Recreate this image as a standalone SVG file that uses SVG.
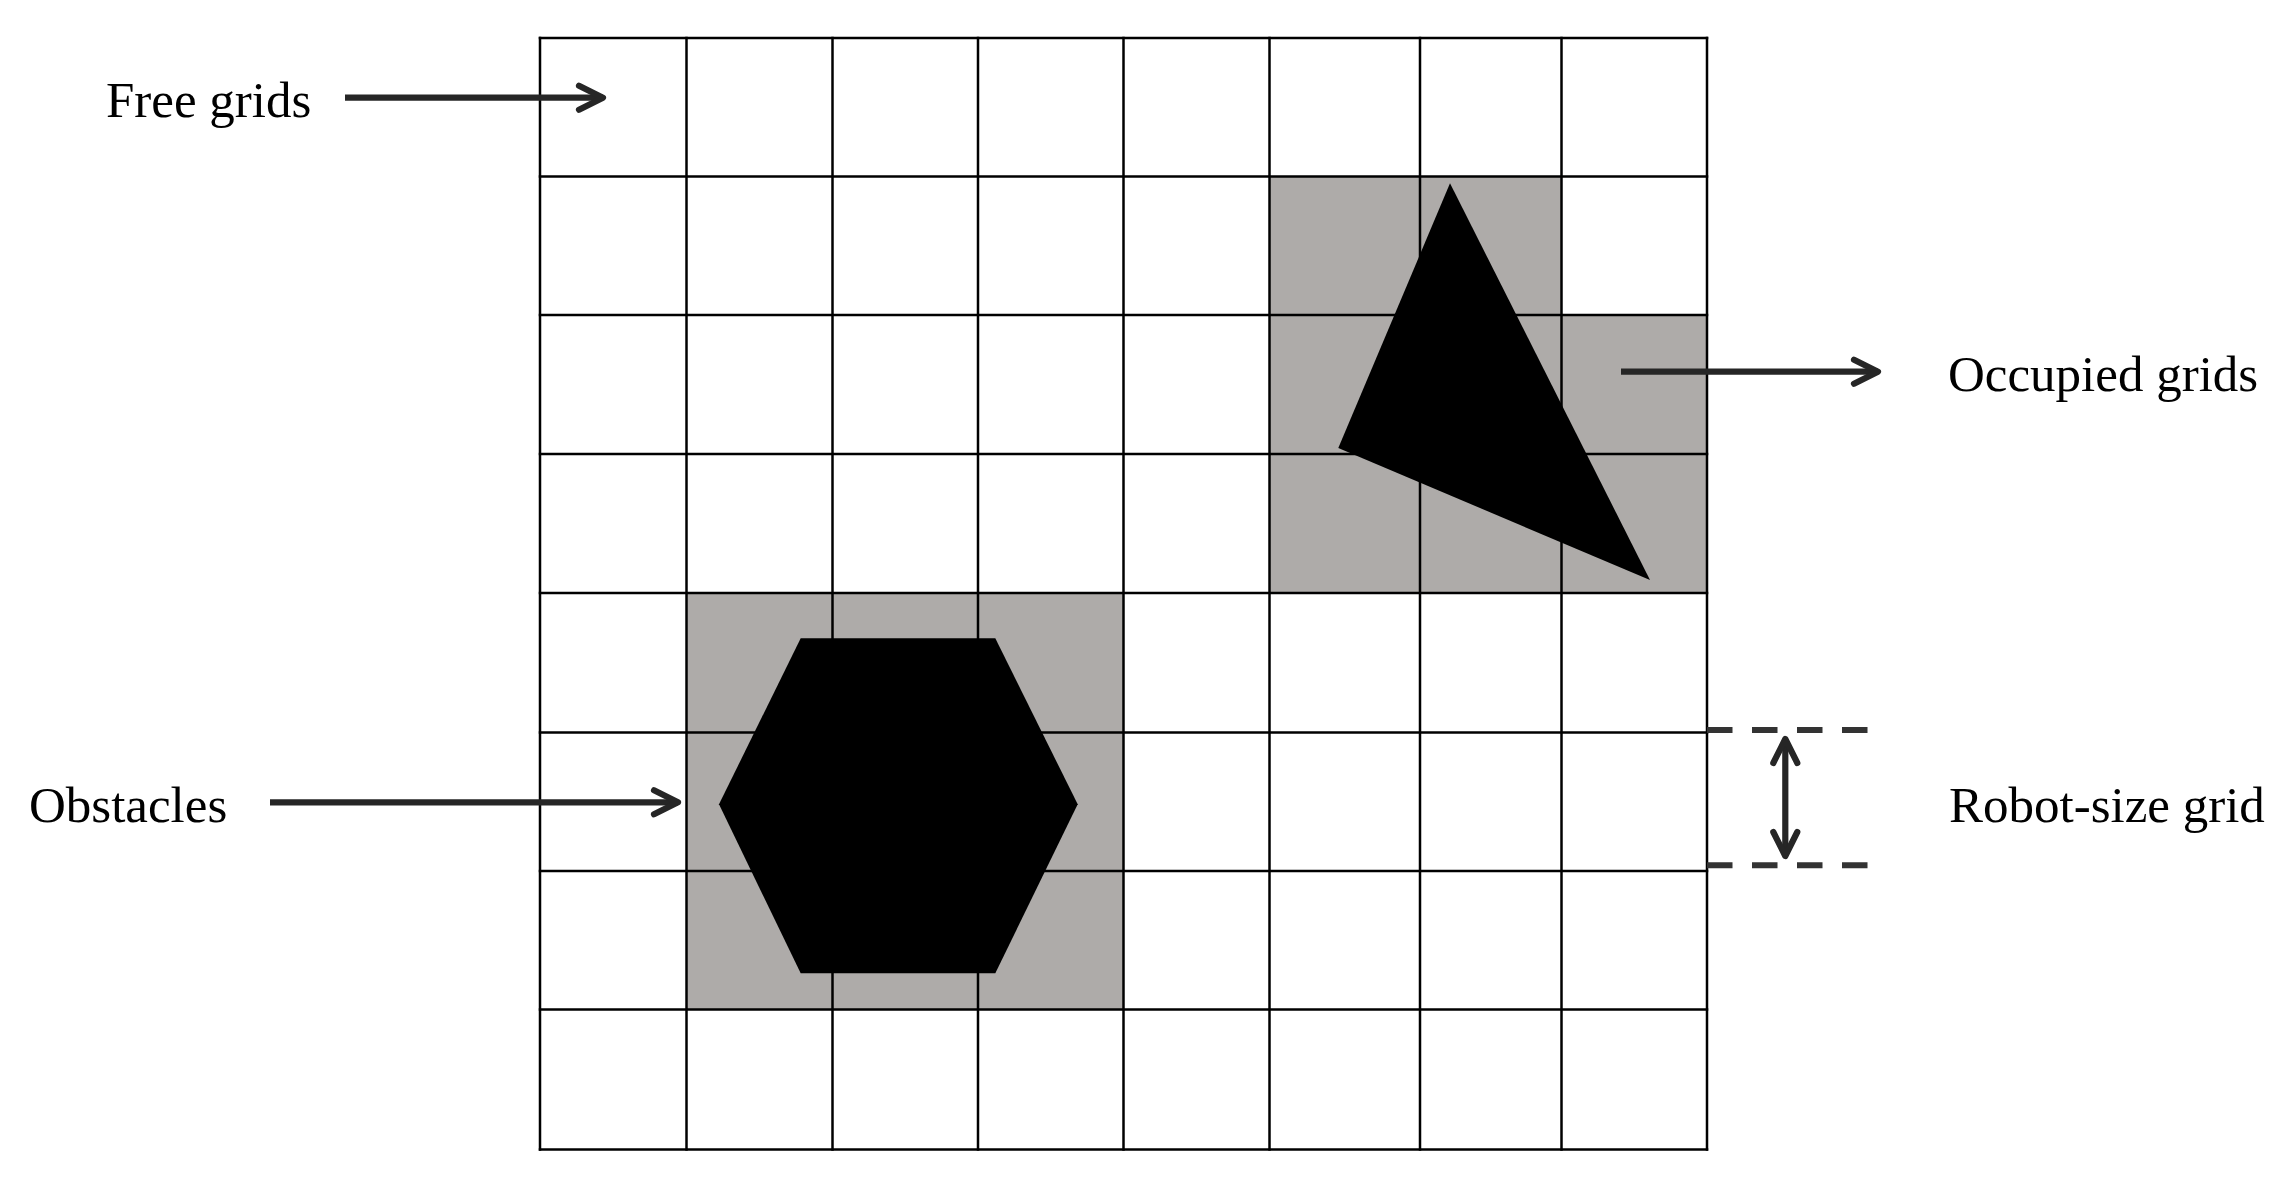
<svg xmlns="http://www.w3.org/2000/svg" width="2290" height="1186" viewBox="0 0 2290 1186">
  <defs>
    <style>
      .cell-occ { fill: #aeaba9; }
      .gridline { stroke: #000; stroke-width: 2.5; fill: none; stroke-linecap: square; }
      .obstacle { fill: #000; }
      .label { font-family: "Liberation Serif", "Times New Roman", serif; font-size: 51px; fill: #000; }
      .conn { stroke: #262626; stroke-width: 6.2; fill: none; }
      .dash { stroke: #333; stroke-width: 6; fill: none; stroke-dasharray: 25.5 19.5; }
    </style>
    <marker id="chev" viewBox="-30 -16 34 32" refX="0" refY="0" markerWidth="34" markerHeight="32" markerUnits="userSpaceOnUse" orient="auto-start-reverse">
      <path d="M-24,-12 L0,0 L-24,12" fill="none" stroke="#262626" stroke-width="6.2" stroke-linecap="round" stroke-linejoin="round"/>
    </marker>
  </defs>
  <rect x="0" y="0" width="2290" height="1186" fill="#fff"/>

  <g id="occupancy-grid">
    <g id="occupied-cells">
      <rect class="cell-occ" x="1269.5" y="176.5" width="292" height="138.5"/>
      <rect class="cell-occ" x="1269.5" y="315" width="437.5" height="278"/>
      <rect class="cell-occ" x="686.5" y="593" width="437" height="416.5"/>
    </g>
    <g id="grid-lines" class="gridline">
      <line x1="540" y1="38" x2="1707" y2="38"/>
      <line x1="540" y1="176.5" x2="1707" y2="176.5"/>
      <line x1="540" y1="315" x2="1707" y2="315"/>
      <line x1="540" y1="454" x2="1707" y2="454"/>
      <line x1="540" y1="593" x2="1707" y2="593"/>
      <line x1="540" y1="732.5" x2="1707" y2="732.5"/>
      <line x1="540" y1="871" x2="1707" y2="871"/>
      <line x1="540" y1="1009.5" x2="1707" y2="1009.5"/>
      <line x1="540" y1="1149.5" x2="1707" y2="1149.5"/>
      <line x1="540" y1="38" x2="540" y2="1149.5"/>
      <line x1="686.5" y1="38" x2="686.5" y2="1149.5"/>
      <line x1="832.5" y1="38" x2="832.5" y2="1149.5"/>
      <line x1="978" y1="38" x2="978" y2="1149.5"/>
      <line x1="1123.5" y1="38" x2="1123.5" y2="1149.5"/>
      <line x1="1269.5" y1="38" x2="1269.5" y2="1149.5"/>
      <line x1="1420" y1="38" x2="1420" y2="1149.5"/>
      <line x1="1561.5" y1="38" x2="1561.5" y2="1149.5"/>
      <line x1="1707" y1="38" x2="1707" y2="1149.5"/>
    </g>
  </g>

  <g id="obstacle-hexagon">
    <polygon class="obstacle" points="800.7,638.3 995.3,638.3 1077.7,804.3 995.3,973.3 800.7,973.3 719,804.3"/>
  </g>
  <g id="obstacle-triangle">
    <polygon class="obstacle" points="1450,183.3 1338.3,448 1650,580"/>
  </g>

  <g id="robot-size-marker">
    <line class="dash" x1="1707" y1="730" x2="1868" y2="730"/>
    <line class="dash" x1="1707" y1="865.3" x2="1868" y2="865.3"/>
  </g>

  <g id="label-free-grids"><text class="label" x="106" y="117">Free grids</text></g>
  <g id="label-occupied-grids"><text class="label" x="1948" y="391">Occupied grids</text></g>
  <g id="label-obstacles"><text class="label" x="29" y="822">Obstacles</text></g>
  <g id="label-robot-size-grid"><text class="label" x="1949" y="822">Robot-size grid</text></g>

  <g id="connectors">
    <line class="conn" x1="345" y1="97.7" x2="603" y2="97.7" marker-end="url(#chev)"/>
    <line class="conn" x1="1621" y1="371.7" x2="1878" y2="371.7" marker-end="url(#chev)"/>
    <line class="conn" x1="270" y1="802.3" x2="678" y2="802.3" marker-end="url(#chev)"/>
    <line class="conn" x1="1785.3" y1="739" x2="1785.3" y2="856" marker-start="url(#chev)" marker-end="url(#chev)"/>
  </g>
</svg>
